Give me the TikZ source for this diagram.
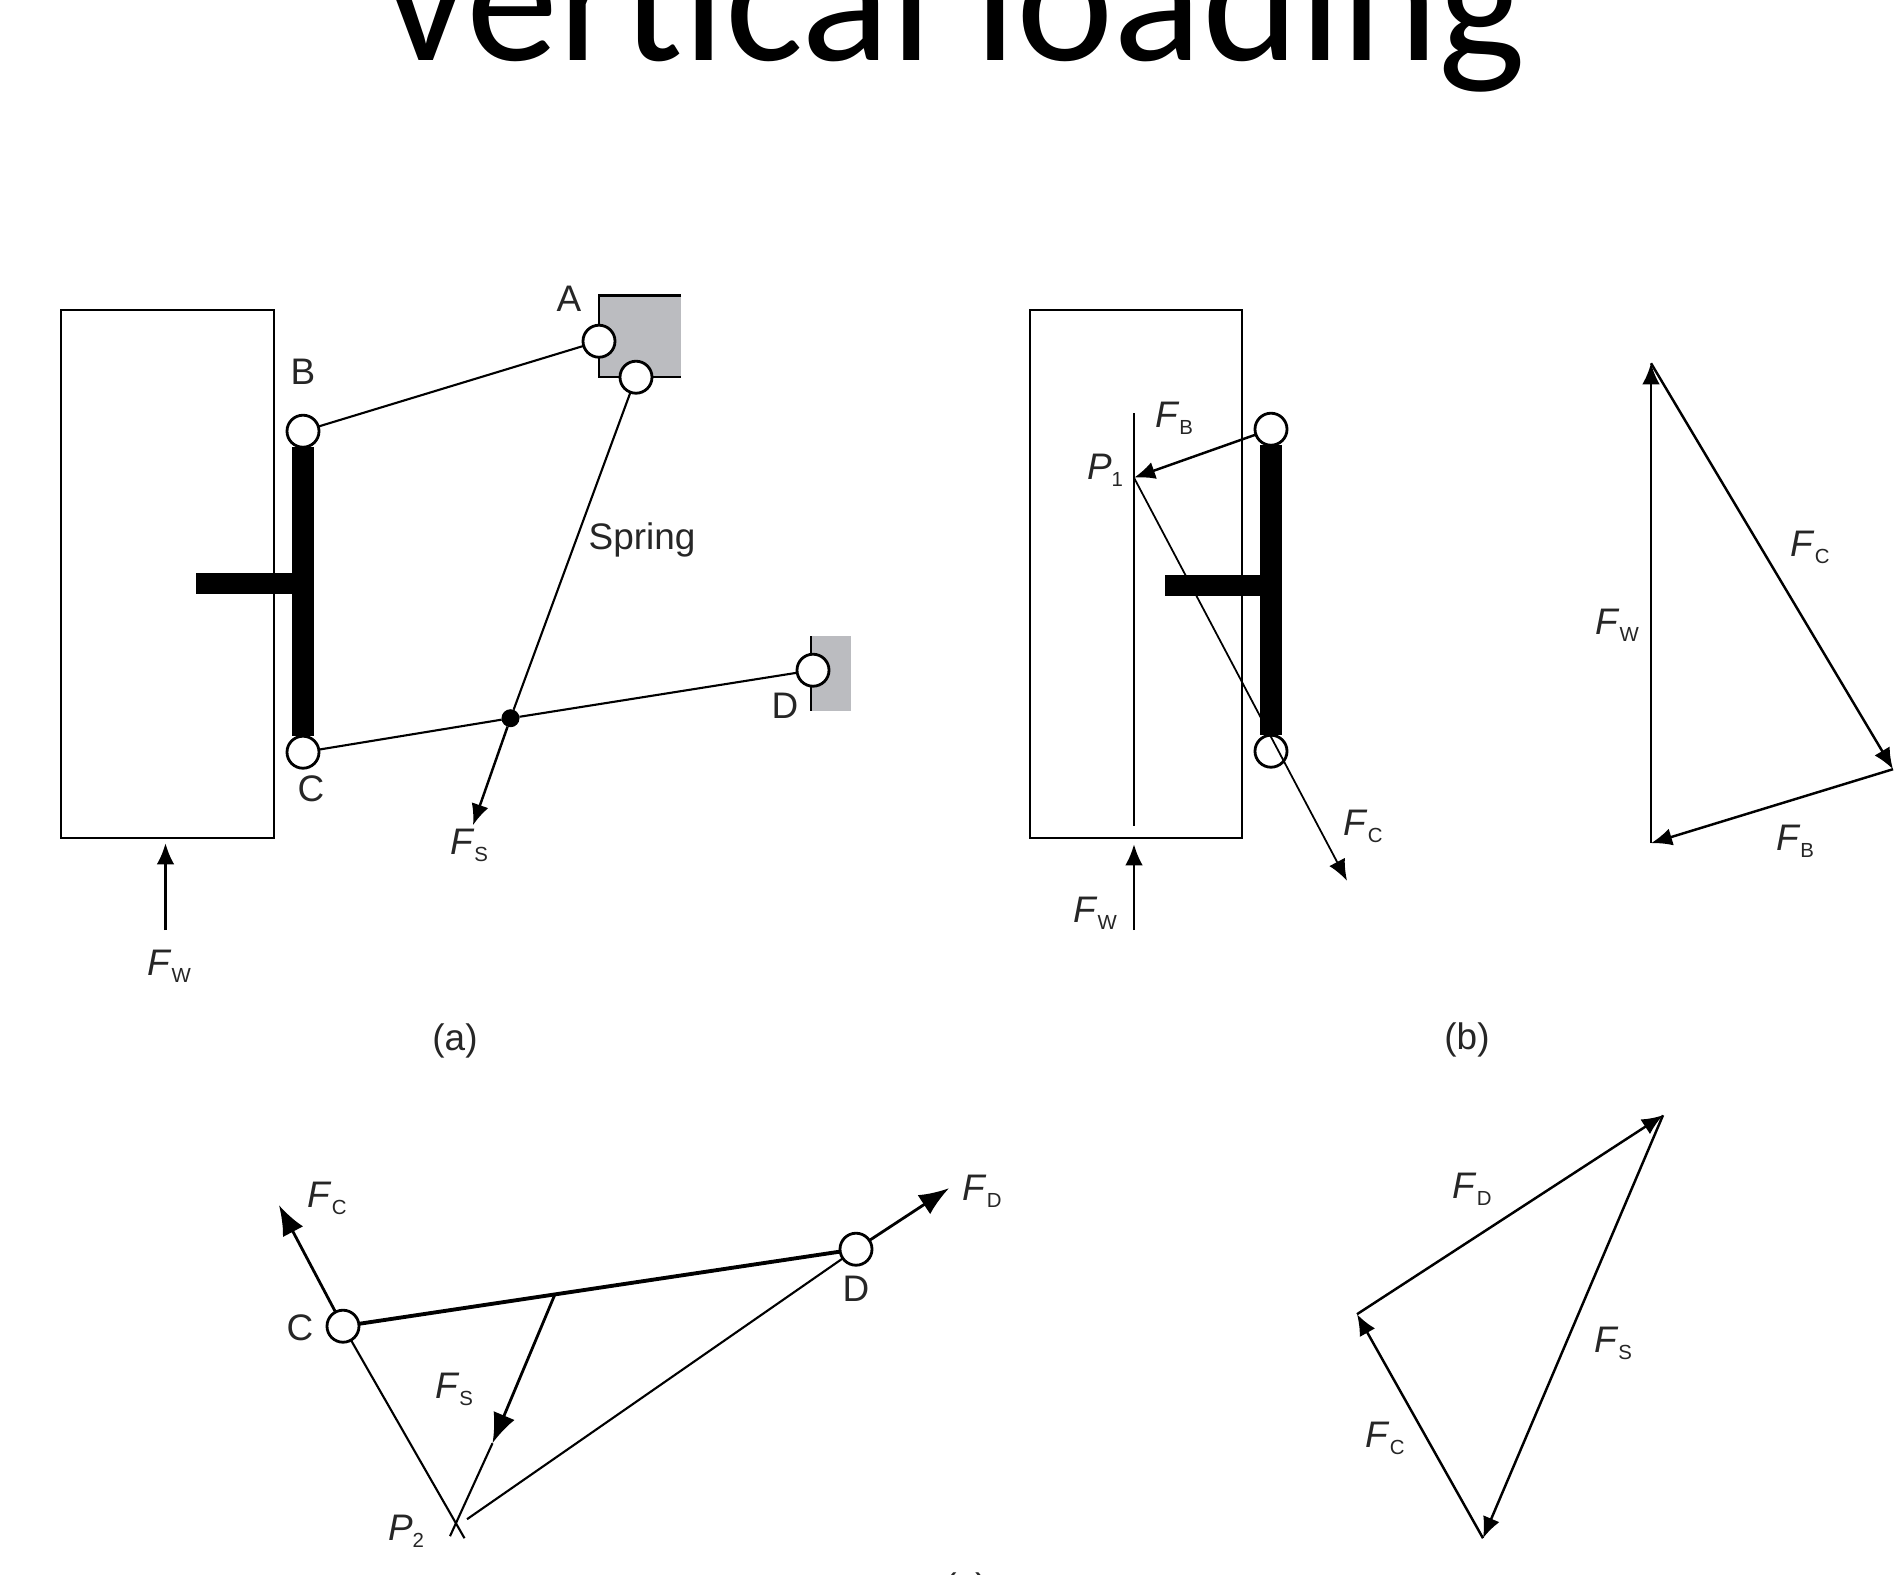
\documentclass[tikz,border=0pt]{standalone}
\usepackage{fontspec}
\setmainfont{Liberation Sans}
\newfontfamily\titlefont{Carlito}
\usetikzlibrary{arrows.meta}
\definecolor{blockgray}{RGB}{187,188,192}
\newcommand{\force}[2]{\textit{#1}\raisebox{-0.35ex}{\fontsize{5.8}{6}\selectfont #2}}
\tikzset{
  pivot/.style={draw,circle,fill=white,line width=0.8pt,minimum size=0.32cm,inner sep=0pt,outer sep=0pt},
  joint/.style={circle,fill=black,minimum size=0.18cm,inner sep=0pt,outer sep=0pt},
  lab/.style={inner sep=0pt,font=\fontsize{10.5}{12}\selectfont,text=black!85},
  body/.style={line width=0.7pt},
  bar/.style={line width=6pt},
  thinline/.style={line width=0.6pt},
  vec/.style={line width=0.7pt,-{Latex[length=6pt,width=5pt]}},
  vecbig/.style={line width=0.8pt,-{Latex[length=8.5pt,width=6.5pt]}},
}
\begin{document}
\begin{tikzpicture}[x=0.01cm,y=-0.01cm]
\useasboundingbox (0,0) rectangle (1896,1575);

\node[anchor=base,inner sep=0pt,font=\titlefont\fontsize{52.5}{60}\selectfont] (title) at (955,60) {vertical loading};

\begin{scope}[yshift=-0.012cm]
% (a) layout
\draw[body] (61,309) rectangle (274,837);
\fill[blockgray] (599,294.5) rectangle (681,376);
\draw[body] (681,294.5)--(599,294.5)--(599,376)--(681,376);
\fill[blockgray] (811,635) rectangle (851,710);
\draw[body] (811,635)--(811,710);

\node[pivot] (aB) at (303,430) {};
\node[pivot] (aC) at (303,751) {};
\node[pivot] (aA) at (599,340) {};
\node[pivot] (aS) at (636,376) {};
\node[pivot] (aD) at (813,669) {};
\node[joint] (aM) at (510.5,717) {};

\coordinate (aTa) at (196,582);
\coordinate (aTb) at (303,582);
\coordinate (aFs) at (473,824);
\coordinate (aWa) at (165.5,929);
\coordinate (aWb) at (165.5,842);

\draw[bar] (aB)--(aC);
\draw[bar] (aTa)--(aTb);
\draw[thinline] (aB)--(aA);
\draw[thinline] (aC)--(aM);
\draw[thinline] (aM)--(aD);
\draw[thinline] (aS)--(aM);
\draw[vec] (aM)--(aFs);
\draw[vec] (aWa)--(aWb);

\node[lab] (labA) at (569,298) {A};
\node[lab] (labB) at (303,371) {B};
\node[lab] (labC) at (311,788) {C};
\node[lab] (labD) at (785,705) {D};
\node[lab] (labSpring) at (642,539) {Spring};
\node[lab] (labFs) at (469,844) {\force{F}{S}};
\node[lab] (labFw) at (169,965) {\force{F}{W}};
\node[lab] (laba) at (455,1040) {(a)};

% (b) free body
\draw[body] (1030,309) rectangle (1242,837);

\node[pivot] (bB) at (1271,428) {};
\node[pivot] (bC) at (1271,750) {};

\coordinate (bTa) at (1165,584);
\coordinate (bTb) at (1271,584);
\coordinate (bLa) at (1134,412);
\coordinate (bLb) at (1134,825);
\coordinate (bP) at (1134,476.5);
\coordinate (bFc) at (1347,879.5);
\coordinate (bWa) at (1134,929);
\coordinate (bWb) at (1134,843);

\draw[bar] (bB)--(bC);
\draw[bar] (bTa)--(bTb);
\draw[thinline] (bLa)--(bLb);
\draw[vec] (bB)--(bP);
\draw[vec,line width=0.5pt] (bP)--(bFc);
\draw[vec] (bWa)--(bWb);

\node[lab] (labbFb) at (1174,417) {\force{F}{B}};
\node[lab] (labbP) at (1105,469) {\force{P}{1}};
\node[lab] (labbFc) at (1363,825) {\force{F}{C}};
\node[lab] (labbFw) at (1095,912) {\force{F}{W}};
\node[lab] (labb) at (1467,1039) {(b)};

% (b) force triangle
\coordinate (tT) at (1651,362);
\coordinate (tB) at (1651,842);
\coordinate (tR) at (1893,768);
\draw[vec] (tB)--(tT);
\draw[vec] (tT)--(tR);
\draw[vec] (tR)--(tB);

\node[lab] (labtFc) at (1810,546) {\force{F}{C}};
\node[lab] (labtFw) at (1617,624) {\force{F}{W}};
\node[lab] (labtFb) at (1795,840) {\force{F}{B}};

% (c) free body
\node[pivot] (cC) at (343,1325) {};
\node[pivot] (cD) at (856,1248) {};

\coordinate (cFc) at (279,1204);
\coordinate (cFd) at (949,1187);
\coordinate (cM) at (555,1293);
\coordinate (cFs) at (492.5,1442);
\coordinate (cPa) at (464.5,1537);
\coordinate (cPb) at (450,1535);
\coordinate (cPc) at (467,1518);

\draw[line width=1.1pt] (cC)--(cD);
\draw[vecbig] (cC)--(cFc);
\draw[vecbig] (cD)--(cFd);
\draw[vecbig] (cM)--(cFs);
\draw[thinline] (cC)--(cPa);
\draw[thinline] (cFs)--(cPb);
\draw[thinline] (cD)--(cPc);

\node[lab] (labcC) at (300,1327) {C};
\node[lab] (labcD) at (856,1288) {D};
\node[lab] (labcFc) at (327,1197) {\force{F}{C}};
\node[lab] (labcFd) at (982,1190) {\force{F}{D}};
\node[lab] (labcFs) at (454,1388) {\force{F}{S}};
\node[lab] (labcP) at (406,1530) {\force{P}{2}};
\node[lab] (labc) at (966,1589) {(c)};

% (c) force triangle
\coordinate (uL) at (1357,1313);
\coordinate (uT) at (1663,1114);
\coordinate (uB) at (1483,1537);
\draw[vec] (uL)--(uT);
\draw[vec] (uT)--(uB);
\draw[vec] (uB)--(uL);

\node[lab] (labuFd) at (1472,1188) {\force{F}{D}};
\node[lab] (labuFs) at (1613,1342) {\force{F}{S}};
\node[lab] (labuFc) at (1385,1437) {\force{F}{C}};
\end{scope}
\end{tikzpicture}
\end{document}
